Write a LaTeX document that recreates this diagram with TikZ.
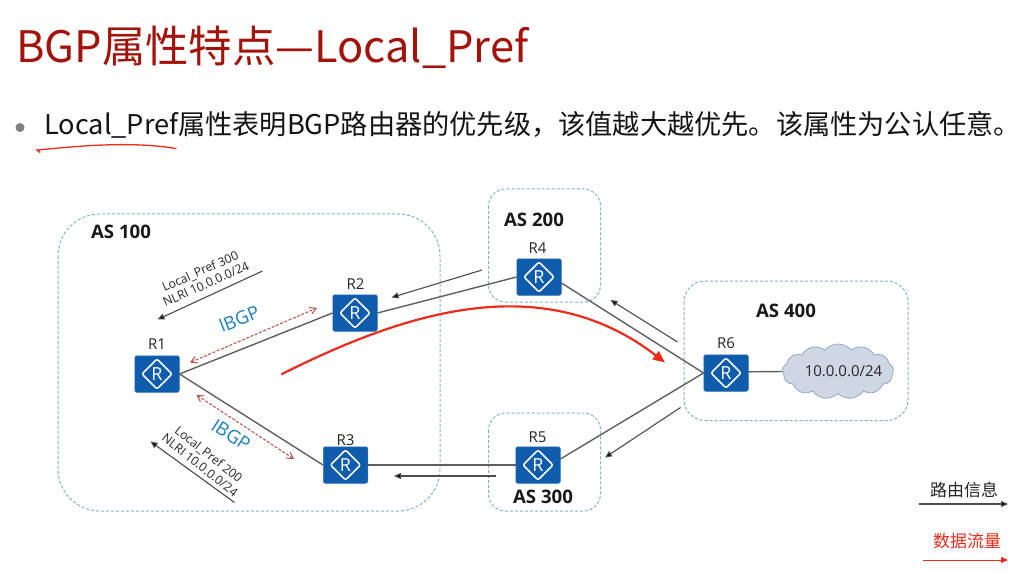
\documentclass[tikz,border=0pt]{standalone}
\usepackage{fontspec}
\setmainfont{Noto Sans CJK SC}
\newfontfamily\latfont{Open Sans}
\usetikzlibrary{arrows.meta,shapes.symbols,calc}
\definecolor{titlered}{HTML}{A4130B}
\definecolor{routerblue}{HTML}{0F5CAD}
\definecolor{asblue}{HTML}{7FB3CF}
\definecolor{wire}{HTML}{5F5F5F}
\definecolor{ibgpblue}{HTML}{1F7FC4}
\definecolor{dashred}{HTML}{B84F4A}
\definecolor{flowred}{HTML}{EE2A1B}
\definecolor{cloudfill}{HTML}{CFD6E4}
\definecolor{cloudedge}{HTML}{8FA8C6}
\newcommand{\fs}[1]{\fontsize{#1}{#1}\selectfont}
\tikzset{
  router/.style={rounded corners=2pt,fill=routerblue,draw=routerblue!85!white,line width=.5pt,
    minimum width=44.5pt,minimum height=36.5pt,inner sep=0pt,text=white,font=\latfont\fs{18},
    path picture={\draw[white,line width=1.5pt]
      ($(path picture bounding box.center)+(-15,0)$) -- ++(15,-15) -- ++(15,15) -- ++(-15,15) -- cycle;}},
  rlabel/.style={font=\latfont\fs{15},text=black!85,inner sep=0pt},
  aslabel/.style={font=\latfont\bfseries\fs{18.6},text=black!90,inner sep=0pt},
  asbox/.style={draw=asblue,line width=1pt,dash pattern=on 3pt off 2pt},
  wirel/.style={draw=wire,line width=1.4pt},
  info/.style={draw=black!70,line width=1.1pt,-{Triangle[length=7pt,width=6pt,fill=black]}},
  ibgp/.style={draw=dashred,line width=1pt,dash pattern=on 3pt off 1.6pt,
    {Straight Barb[length=6pt,width=7pt,line width=1pt]}-{Straight Barb[length=6pt,width=7pt,line width=1pt]}},
  ibgptext/.style={font=\latfont\fs{18.5},text=ibgpblue,inner sep=0pt},
  preftext/.style={font=\latfont\fontsize{12.2}{14}\selectfont,text=black!85,align=center,inner sep=0pt},
  flow/.style={draw=flowred,line cap=round},
}
\begin{document}
\begin{tikzpicture}[x=1pt,y=-1pt]
\path[use as bounding box,fill=white] (0,0) rectangle (1033,572);
% title and bullet
\node[anchor=west,inner sep=0pt,text=titlered,font=\fs{43.4}] (title) at (16,47) {BGP属性特点—Local\_Pref};
\node[circle,fill=black!50,minimum size=9pt,inner sep=0pt] (bullet) at (20,127.5) {};
\node[anchor=west,inner sep=0pt,text=black!92,font=\fs{27.2}] (body) at (44,125) {Local\_Pref属性表明BGP路由器的优先级，该值越大越优先。该属性为公认任意。};
\coordinate (ula) at (40,152.5);
\coordinate (ulb) at (37,150);
\coordinate (ulc) at (176,148.5);
\draw[flow,line width=1.3pt] (ula) -- (ulb) .. controls (80,146) and (130,141) .. (ulc);
% AS regions
\draw[asbox,rounded corners=42pt] (58,214) rectangle (440,511);
\draw[asbox,rounded corners=17pt] (488.5,189) rectangle (600.5,302);
\draw[asbox,rounded corners=17pt] (488.5,413) rectangle (600.5,511);
\draw[asbox,rounded corners=21pt] (684,281) rectangle (908,420.5);
\node[aslabel] (as100) at (121,232) {AS 100};
\node[aslabel] (as200) at (534,220) {AS 200};
\node[aslabel] (as300) at (543,497) {AS 300};
\node[aslabel] (as400) at (786,311) {AS 400};
% routers
\node[router] (R1) at (157,374) {R};
\node[router] (R2) at (355,313) {R};
\node[router] (R3) at (345.5,465) {R};
\node[router] (R4) at (539,277) {R};
\node[router] (R5) at (538,465) {R};
\node[router] (R6) at (726,373) {R};
\node[rlabel] (l1) at (157,344.5) {R1};
\node[rlabel] (l2) at (355.5,284) {R2};
\node[rlabel] (l3) at (345.5,440) {R3};
\node[rlabel] (l4) at (537.5,248.5) {R4};
\node[rlabel] (l5) at (537.5,437) {R5};
\node[rlabel] (l6) at (726,343) {R6};
% cloud
\node[cloud,cloud puffs=13,cloud puff arc=100,aspect=2.4,draw=cloudedge,fill=cloudfill,line width=.8pt,
  minimum width=111pt,minimum height=55pt,inner sep=0pt] (net) at (838,371.5) {};
\node[inner sep=0pt,font=\latfont\fs{15},text=black!85] (nettext) at (843.5,371) {10.0.0.0/24};
% links
\draw[wirel] (R1.east) -- (R2.west);
\draw[wirel] (R1.east) -- (R3.west);
\draw[wirel] (R2.east) -- (R4.west);
\draw[wirel] (R3.east) -- (R5.west);
\draw[wirel] (R4.-15) -- (R6.west);
\draw[wirel] (R5.15) -- (R6.west);
\draw[wirel] (R6.3) -- (net.west);
% route information arrows
\coordinate (a1s) at (262.5,271); \coordinate (a1e) at (157.5,319.5);
\coordinate (a2s) at (482,270);   \coordinate (a2e) at (391.5,297.5);
\coordinate (a3s) at (496,476);   \coordinate (a3e) at (394,476);
\coordinate (a4s) at (677.5,342); \coordinate (a4e) at (610.5,300);
\coordinate (a5s) at (680.5,407.5); \coordinate (a5e) at (605,457.5);
\coordinate (a6s) at (234.5,502.5); \coordinate (a6e) at (150.5,441.5);
\foreach \n in {1,...,6}{\draw[info] (a\n s) -- (a\n e);}
% IBGP
\coordinate (i1a) at (190,362.5); \coordinate (i1b) at (317,308);
\coordinate (i2a) at (196.5,395); \coordinate (i2b) at (294,459);
\draw[ibgp] (i1a) -- (i1b);
\draw[ibgp] (i2a) -- (i2b);
\node[ibgptext,rotate=22] (t1) at (239,319) {IBGP};
\node[ibgptext,rotate=-33] (t2) at (231,435) {IBGP};
\node[preftext,rotate=24] (p1) at (203,277.5) {Local\_Pref 300\\NLRI 10.0.0.0/24};
\node[preftext,rotate=-38.5] (p2) at (204.5,459.5) {Local\_Pref 200\\NLRI 10.0.0.0/24};
% data flow
\coordinate (fs) at (282,374); \coordinate (fe) at (665,362.5);
\draw[flow,line width=2.2pt,-{Triangle[length=12pt,width=10pt,fill=flowred]}] (fs) .. controls (400,315) and (540,266) .. (fe);
% legend
\node[inner sep=0pt,font=\fs{17},text=black!85] (k1) at (964,490) {路由信息};
\node[inner sep=0pt,font=\fs{17},text=flowred] (k2) at (967,541.5) {数据流量};
\coordinate (k1a) at (919,504); \coordinate (k1b) at (1008,504);
\coordinate (k2a) at (923,560); \coordinate (k2b) at (1008,560);
\draw[info] (k1a) -- (k1b);
\draw[draw=flowred,line width=1pt,-{Triangle[length=7pt,width=6pt,fill=flowred]}] (k2a) -- (k2b);
\end{tikzpicture}
\end{document}
